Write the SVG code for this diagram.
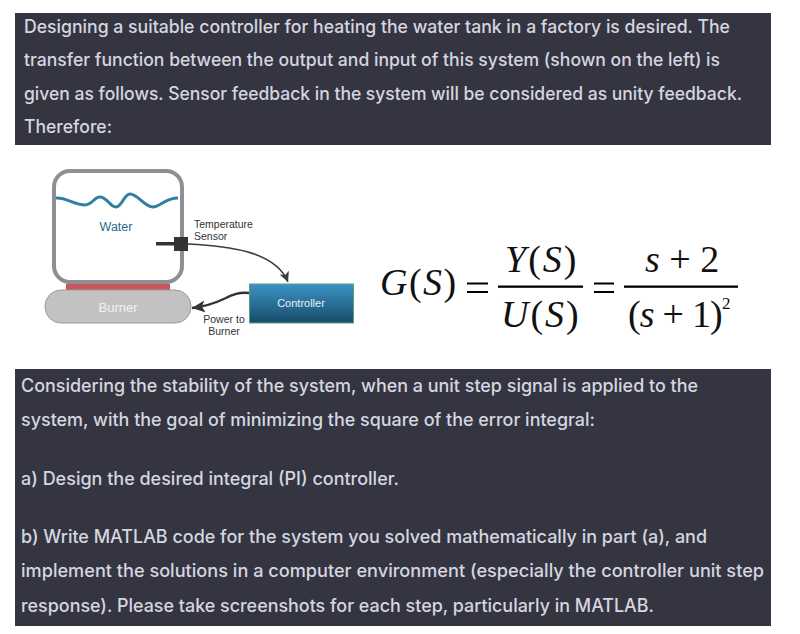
<svg xmlns="http://www.w3.org/2000/svg" width="800" height="634" viewBox="0 0 800 634">
<style>
.p{font-family:Inter,"Liberation Sans",sans-serif;font-size:18px;fill:#d6d6e0;font-weight:500;}
.panel{fill:#343541;}
.l{font-family:"Liberation Sans",Arial,sans-serif;font-size:10.500px;fill:#333;}
.m{font-family:"Liberation Serif","Times New Roman",serif;font-size:38px;fill:#111;}
.i{font-style:italic;}
.c{fill:none;stroke:#3c3c3c;stroke-width:1.600;}
</style>
<defs>
<linearGradient id="g" x1="0" y1="0" x2="0" y2="1"><stop offset="0" stop-color="#3b93c6"/><stop offset="1" stop-color="#174c68"/></linearGradient>
<marker id="a1" markerUnits="userSpaceOnUse" markerWidth="12" markerHeight="12" refX="10" refY="5" orient="auto"><path d="M0 0L10 5L0 10L2.500 5Z" fill="#3c3c3c"/></marker>
<marker id="a2" markerUnits="userSpaceOnUse" markerWidth="16" markerHeight="14" refX="13" refY="6" orient="auto"><path d="M0 0L13 6L0 12L3 6Z" fill="#333"/></marker>
</defs>
<rect width="800" height="634" fill="#fff"/>
<g id="top-panel">
<rect class="panel" x="15" y="13" width="756" height="132"/>
<text class="p" x="24" y="33" textLength="706" lengthAdjust="spacingAndGlyphs">Designing a suitable controller for heating the water tank in a factory is desired. The</text>
<text class="p" x="24" y="66" textLength="696" lengthAdjust="spacingAndGlyphs">transfer function between the output and input of this system (shown on the left) is</text>
<text class="p" x="24" y="100" textLength="718" lengthAdjust="spacingAndGlyphs">given as follows. Sensor feedback in the system will be considered as unity feedback.</text>
<text class="p" x="24" y="133" textLength="88" lengthAdjust="spacingAndGlyphs">Therefore:</text>
</g>
<g id="tank">
<rect x="54" y="171" width="128" height="111" rx="16" fill="#fff" stroke="#8e8e94" stroke-width="4"/>
<path d="M56 198C65 197 75 205 85 205C92 205 94 197 100 197C107 197 110 207 116 207C122 207 124 194 130 194C138 194 144 207 153 207C160 207 165 198 178 198" fill="none" stroke="#2f7f9f" stroke-width="3"/>
<text x="116" y="231" text-anchor="middle" font-family="Liberation Sans,Arial,sans-serif" font-size="12.500" fill="#2b6a8c">Water</text>
</g>
<g id="heater"><rect x="66" y="284" width="104" height="7" fill="#c8555a"/></g>
<g id="burner">
<rect x="45" y="290" width="146" height="33" rx="16" fill="#c2c2c2" stroke="#9a9a9a"/>
<text x="118" y="312" text-anchor="middle" font-family="Liberation Sans,Arial,sans-serif" font-size="13" fill="#f2f2f2">Burner</text>
</g>
<g id="sensor">
<rect x="156" y="242" width="19" height="3.500" fill="#333"/>
<rect x="174" y="237" width="14" height="14" fill="#333"/>
<text class="l" x="194" y="228">Temperature</text>
<text class="l" x="194" y="240">Sensor</text>
</g>
<g id="controller">
<rect x="249.500" y="284" width="104" height="39" fill="url(#g)" stroke="#5e9e80"/>
<text x="301" y="307" text-anchor="middle" font-family="Liberation Sans,Arial,sans-serif" font-size="11" fill="#e8f0f4">Controller</text>
</g>
<g id="connectors">
<path class="c" d="M188 244C225 246 275 250 288 282" marker-end="url(#a1)"/>
<path d="M249 293C228 291 226 304 192 308" fill="none" stroke="#333" stroke-width="2.400" marker-end="url(#a2)"/>
</g>
<text class="l" x="224" y="323" text-anchor="middle">Power to</text>
<text class="l" x="224" y="335" text-anchor="middle">Burner</text>
<g id="formula">
<text class="m" x="380" y="295" letter-spacing="1.500"><tspan class="i">G</tspan>(<tspan class="i">S</tspan>)</text>
<rect x="467" y="282.500" width="21" height="2"/><rect x="467" y="291" width="21" height="2"/>
<text class="m" x="505" y="272" letter-spacing="2"><tspan class="i">Y</tspan>(<tspan class="i">S</tspan>)</text>
<rect x="498" y="285.500" width="85" height="2.300"/>
<text class="m" x="501" y="327" letter-spacing="2"><tspan class="i">U</tspan>(<tspan class="i">S</tspan>)</text>
<rect x="594" y="282.500" width="20" height="2"/><rect x="594" y="291" width="20" height="2"/>
<text class="m" x="645" y="272"><tspan class="i">s</tspan> + 2</text>
<rect x="624" y="285.500" width="114" height="2.300"/>
<text class="m" x="628" y="327" letter-spacing="-0.800">(<tspan class="i">s</tspan> + 1)</text>
<text class="m" x="722" y="309" style="font-size:17px">2</text>
</g>
<g id="bottom-panel">
<rect class="panel" x="15" y="369" width="756" height="257"/>
<text class="p" x="21" y="392" textLength="677" lengthAdjust="spacingAndGlyphs">Considering the stability of the system, when a unit step signal is applied to the</text>
<text class="p" x="21" y="426" textLength="574" lengthAdjust="spacingAndGlyphs">system, with the goal of minimizing the square of the error integral:</text>
<text class="p" x="21" y="485" textLength="378" lengthAdjust="spacingAndGlyphs">a) Design the desired integral (PI) controller.</text>
<text class="p" x="21" y="543" textLength="686" lengthAdjust="spacingAndGlyphs">b) Write MATLAB code for the system you solved mathematically in part (a), and</text>
<text class="p" x="21" y="577" textLength="743" lengthAdjust="spacingAndGlyphs">implement the solutions in a computer environment (especially the controller unit step</text>
<text class="p" x="21" y="612" textLength="633" lengthAdjust="spacingAndGlyphs">response). Please take screenshots for each step, particularly in MATLAB.</text>
</g>
</svg>
